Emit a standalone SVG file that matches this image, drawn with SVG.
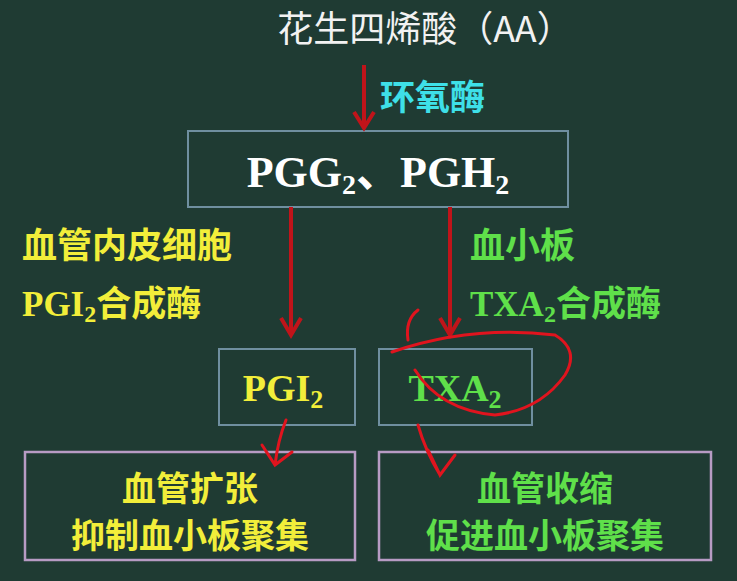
<svg xmlns="http://www.w3.org/2000/svg" width="737" height="581" viewBox="0 0 737 581">
<defs>
<style>
.b{fill:none;stroke:#6f8fa0;stroke-width:2}
.p{fill:none;stroke:#b79bc4;stroke-width:2.5}
.t{font-family:"Liberation Serif","Noto Sans CJK SC",serif;font-weight:bold}
.c{font-family:"Noto Sans CJK SC",sans-serif;font-weight:bold}
.a{stroke:#c0141a;stroke-width:4;fill:none}
.h{stroke:#e0141e;stroke-width:3;fill:none;stroke-linecap:round}
</style>
</defs>
<rect width="737" height="581" fill="#1f3b33"/>
<text x="425" y="42" text-anchor="middle" font-size="36" fill="#f2f2f2" font-family="Noto Sans CJK SC,sans-serif">花生四烯酸（AA）</text>
<text x="380" y="110" font-size="35" fill="#3ee0e8" class="c">环氧酶</text>
<g id="pgg"><rect x="188" y="131" width="380" height="76" class="b"/>
<text x="378" y="187" text-anchor="middle" font-size="44" fill="#ffffff" class="t">PGG<tspan font-size="28" dy="7">2</tspan><tspan dy="-7">、PGH</tspan><tspan font-size="28" dy="7">2</tspan></text></g>
<text x="22" y="258" font-size="35" fill="#f2ee3a" class="c">血管内皮细胞</text>
<text x="22" y="316" font-size="35" fill="#f2ee3a" class="t">PGI<tspan font-size="24" dy="6">2</tspan><tspan dy="-6" class="c">合成酶</tspan></text>
<text x="470" y="258" font-size="35" fill="#5fe04a" class="c">血小板</text>
<text x="470" y="316" font-size="35" fill="#5fe04a" class="t">TXA<tspan font-size="24" dy="6">2</tspan><tspan dy="-6" class="c">合成酶</tspan></text>
<g id="pgi"><rect x="219" y="349" width="136" height="76" class="b"/>
<text x="283" y="401" text-anchor="middle" font-size="38" fill="#f2ee3a" class="t">PGI<tspan font-size="26" dy="7">2</tspan></text></g>
<g id="txa"><rect x="379" y="349" width="153" height="76" class="b"/>
<text x="455" y="401" text-anchor="middle" font-size="38" fill="#5fe04a" class="t">TXA<tspan font-size="26" dy="7">2</tspan></text></g>
<g id="dil"><rect x="25" y="452" width="330" height="108" class="p"/>
<text x="190" y="501" text-anchor="middle" font-size="34" fill="#f2ee3a" class="c">血管扩张</text>
<text x="190" y="548" text-anchor="middle" font-size="34" fill="#f2ee3a" class="c">抑制血小板聚集</text></g>
<g id="con"><rect x="379" y="452" width="332" height="108" class="p"/>
<text x="545" y="501" text-anchor="middle" font-size="34" fill="#5fe04a" class="c">血管收缩</text>
<text x="545" y="548" text-anchor="middle" font-size="34" fill="#5fe04a" class="c">促进血小板聚集</text></g>
<g id="connectors">
<path class="a" d="M364,65 V128 M354,112 L364,128 L374,112"/>
<path class="a" d="M291,207 V335 M281,318 L291,335 L301,318"/>
<path class="a" d="M450,207 V335 M440,318 L450,335 L460,318"/>
</g>
<g id="annot">
<path class="h" d="M418,310 Q405,320 408,340"/>
<path class="h" d="M392,352 Q470,325 555,335 Q580,350 565,375 Q540,410 495,415 Q440,410 415,370"/>
<path class="h" d="M286,420 Q278,440 275,465 M262,445 L275,465 L292,452"/>
<path class="h" d="M418,425 Q425,450 440,475 M428,450 L440,475 L455,455"/>
</g>
</svg>
